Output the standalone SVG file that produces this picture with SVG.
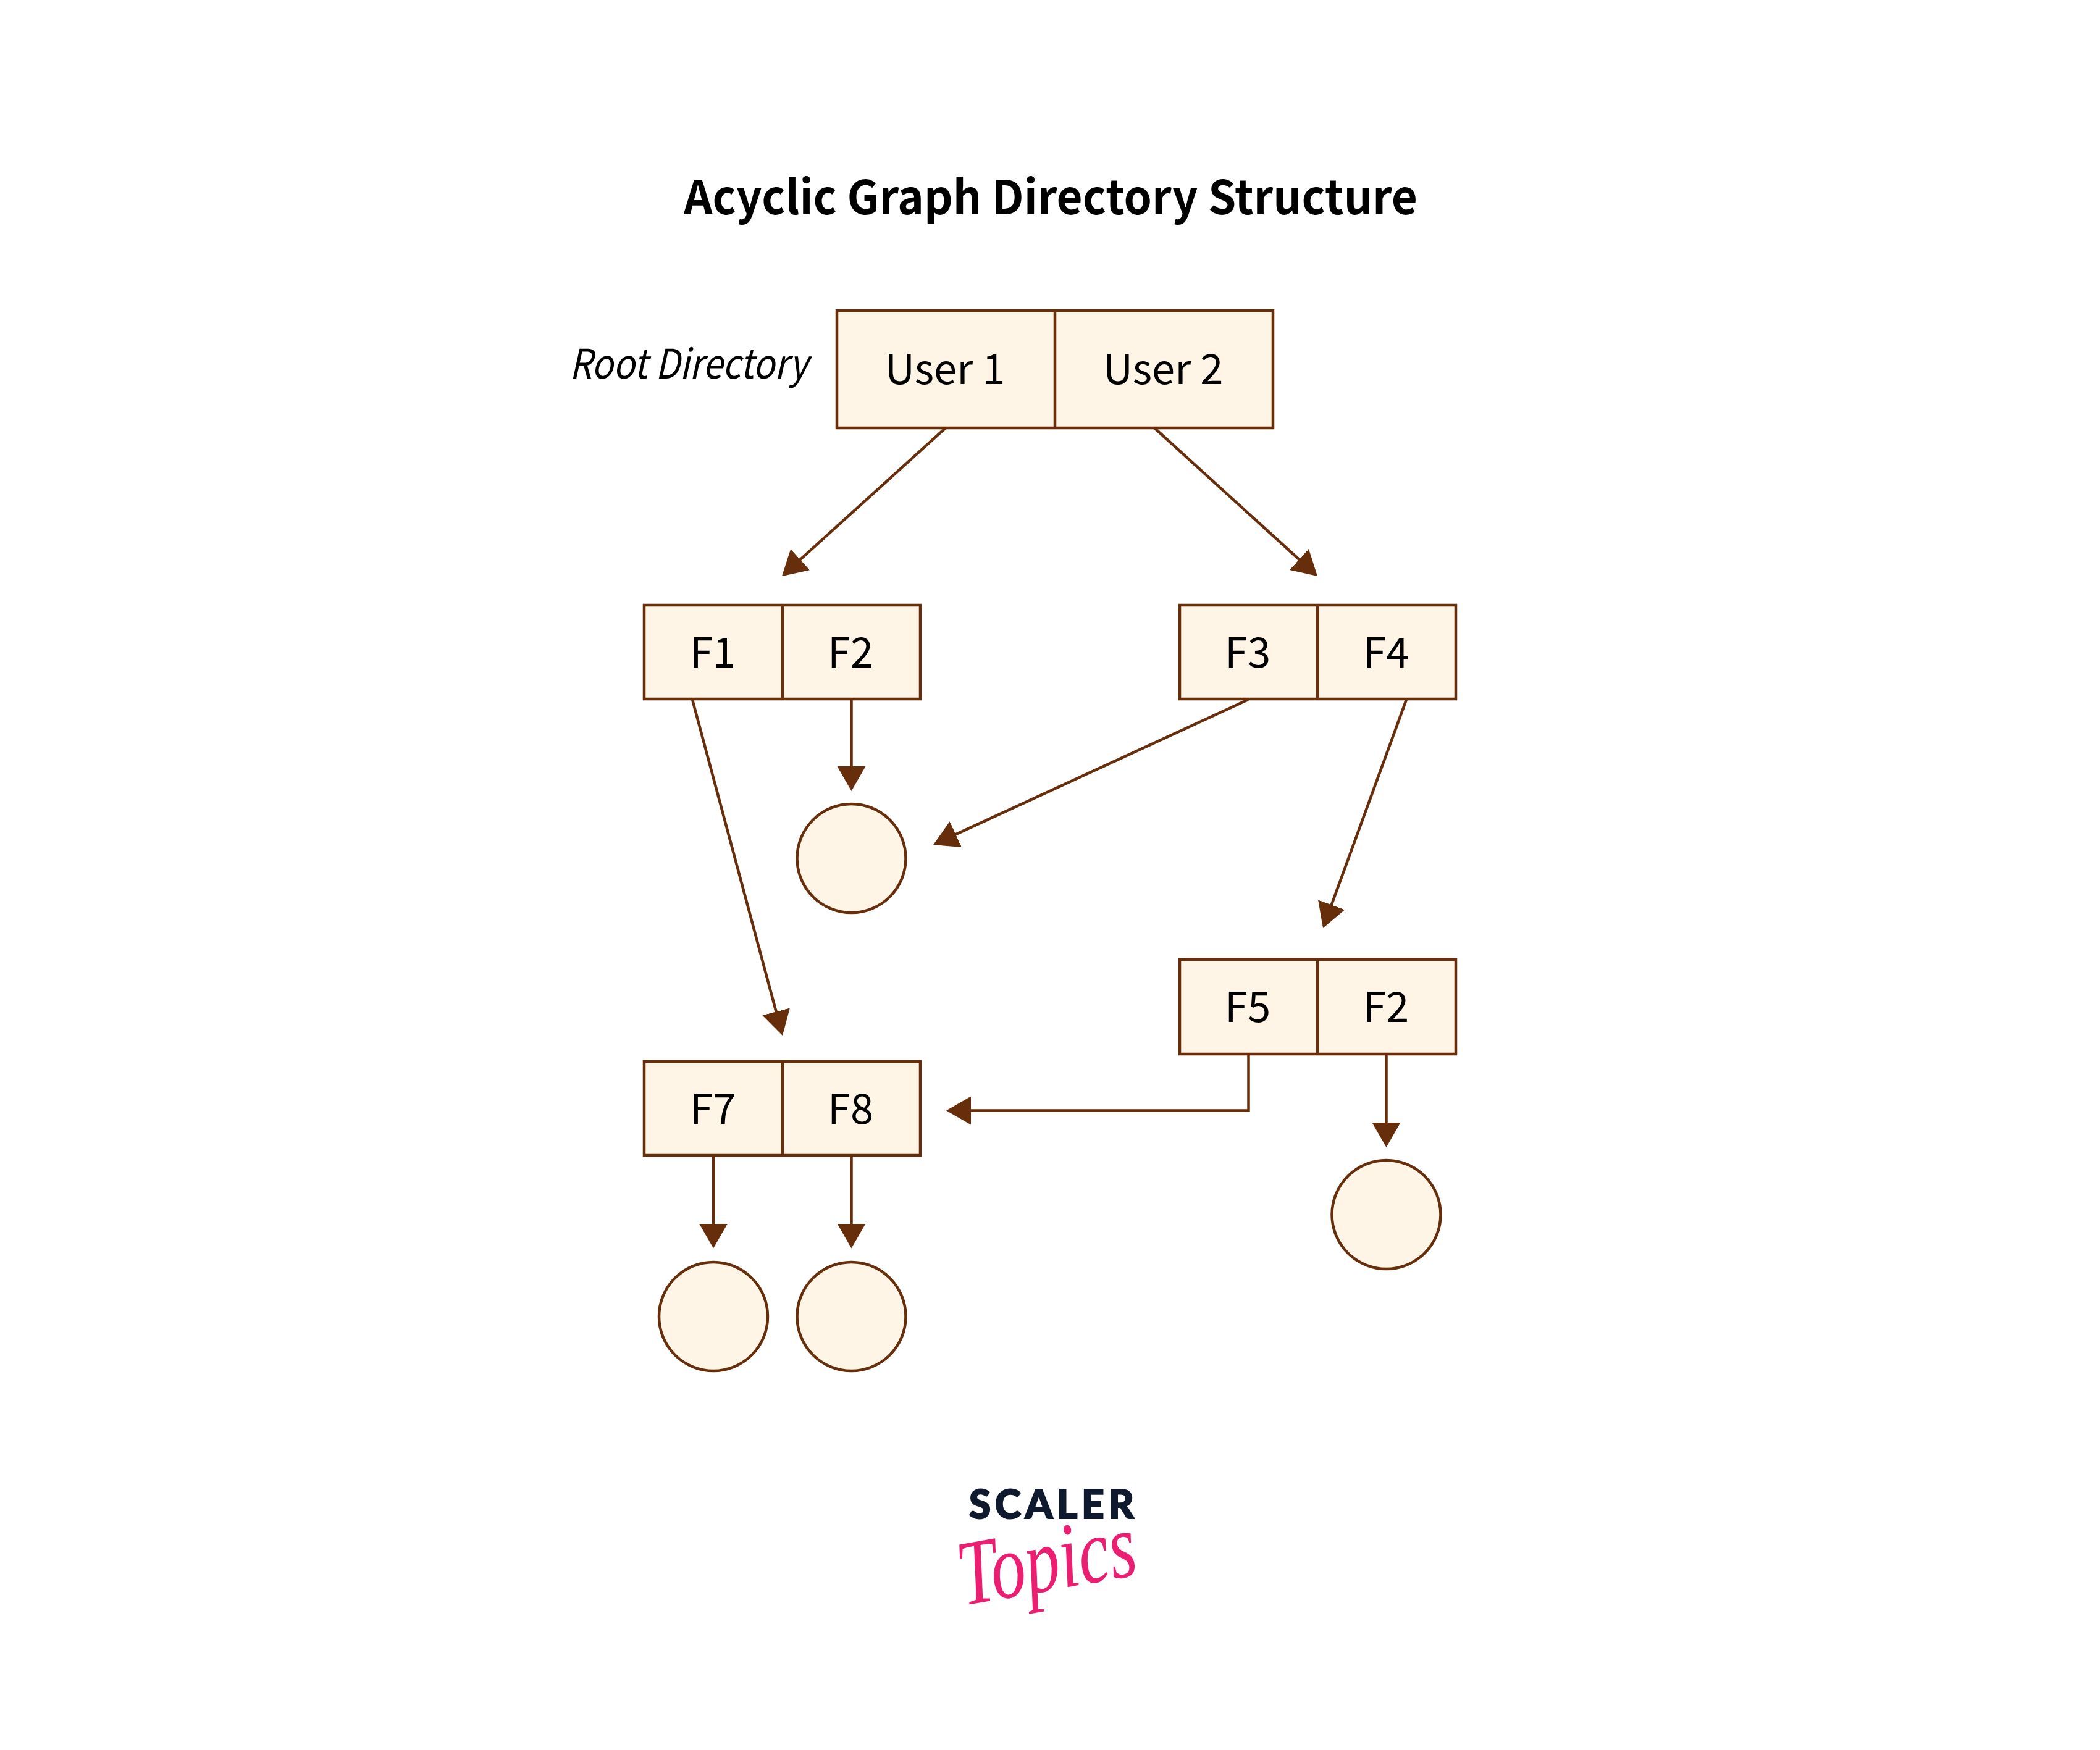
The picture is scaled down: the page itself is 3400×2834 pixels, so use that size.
<svg xmlns="http://www.w3.org/2000/svg" width="3400" height="2834" viewBox="0 0 3400 2834">
<style>
.box{fill:#FFF5E6;stroke:#662E0B;stroke-width:4.5}
.div{fill:none;stroke:#662E0B;stroke-width:4.5}
.conn{fill:none;stroke:#662E0B;stroke-width:4.5;marker-end:url(#arrow)}
.t{font-family:"Noto Sans CJK SC","Noto Sans",sans-serif;fill:#000}
.lbl{font-size:67px;text-anchor:middle}
</style>
<defs>
<marker id="arrow" markerUnits="userSpaceOnUse" markerWidth="42" markerHeight="48" refX="20" refY="24" orient="auto">
<path d="M0,1 L40,24 L0,47 Z" fill="#662E0B"/>
</marker>
</defs>
<rect width="3400" height="2834" fill="#fff"/>
<text id="title" class="t" x="1107" y="347" font-size="76" font-weight="600" textLength="1188" lengthAdjust="spacingAndGlyphs">Acyclic Graph Directory Structure</text>
<text id="root-label" class="t" x="922" y="613" font-size="66" font-style="italic" textLength="386" lengthAdjust="spacingAndGlyphs">Root Directory</text>
<g id="connectors">
<path class="conn" d="M1531,693 L1280.8,919.6"/>
<path class="conn" d="M1869,693 L2118.2,919.5"/>
<path class="conn" d="M1121,1133 L1261.8,1657.7"/>
<path class="conn" d="M1378.5,1133 L1378.5,1261"/>
<path class="conn" d="M2021,1133 L1529.2,1359.6"/>
<path class="conn" d="M2277,1133 L2148.9,1484.2"/>
<path class="conn" d="M2021.5,1708 L2021.5,1798.5 L1552,1798.5"/>
<path class="conn" d="M2244.5,1708 L2244.5,1838"/>
<path class="conn" d="M1155,1871 L1155,2001.5"/>
<path class="conn" d="M1378.5,1871 L1378.5,2001.5"/>
</g>
<g id="root">
<rect class="box" x="1355" y="503" width="706" height="190"/>
<path class="div" d="M1708,503 V693"/>
<text class="t lbl" x="1530" y="622">User 1</text>
<text class="t lbl" x="1883" y="622">User 2</text>
</g>
<g id="dir-f1-f2">
<rect class="box" x="1043" y="980" width="447" height="152"/>
<path class="div" d="M1267,980 V1132"/>
<text class="t lbl" x="1154" y="1081">F1</text>
<text class="t lbl" x="1377" y="1081">F2</text>
</g>
<g id="dir-f3-f4">
<rect class="box" x="1910" y="980" width="447" height="152"/>
<path class="div" d="M2133,980 V1132"/>
<text class="t lbl" x="2020" y="1081">F3</text>
<text class="t lbl" x="2244" y="1081">F4</text>
</g>
<g id="dir-f5-f2">
<rect class="box" x="1910" y="1554" width="447" height="153"/>
<path class="div" d="M2133,1554 V1707"/>
<text class="t lbl" x="2020" y="1655">F5</text>
<text class="t lbl" x="2244" y="1655">F2</text>
</g>
<g id="dir-f7-f8">
<rect class="box" x="1043" y="1719" width="447" height="152"/>
<path class="div" d="M1267,1719 V1871"/>
<text class="t lbl" x="1154" y="1820">F7</text>
<text class="t lbl" x="1377" y="1820">F8</text>
</g>
<g id="file-f2"><circle class="box" cx="1378.5" cy="1390" r="88"/></g>
<g id="file-f5-f2"><circle class="box" cx="2244.5" cy="1967" r="88"/></g>
<g id="file-f7"><circle class="box" cx="1155" cy="2132" r="88"/></g>
<g id="file-f8"><circle class="box" cx="1378.5" cy="2132" r="88"/></g>
<g id="logo">
<text x="1569" y="2459" font-family="Lato,sans-serif" font-weight="900" font-size="64" textLength="267" lengthAdjust="spacing" fill="#0F1A2E" stroke="#0F1A2E" stroke-width="2">SCALER</text>
<text x="1560" y="2600" font-family="Liberation Serif,serif" font-style="italic" font-size="150" textLength="290" lengthAdjust="spacingAndGlyphs" fill="#EC1E71" transform="rotate(-10 1560 2600)">Topics</text>
</g>
</svg>
